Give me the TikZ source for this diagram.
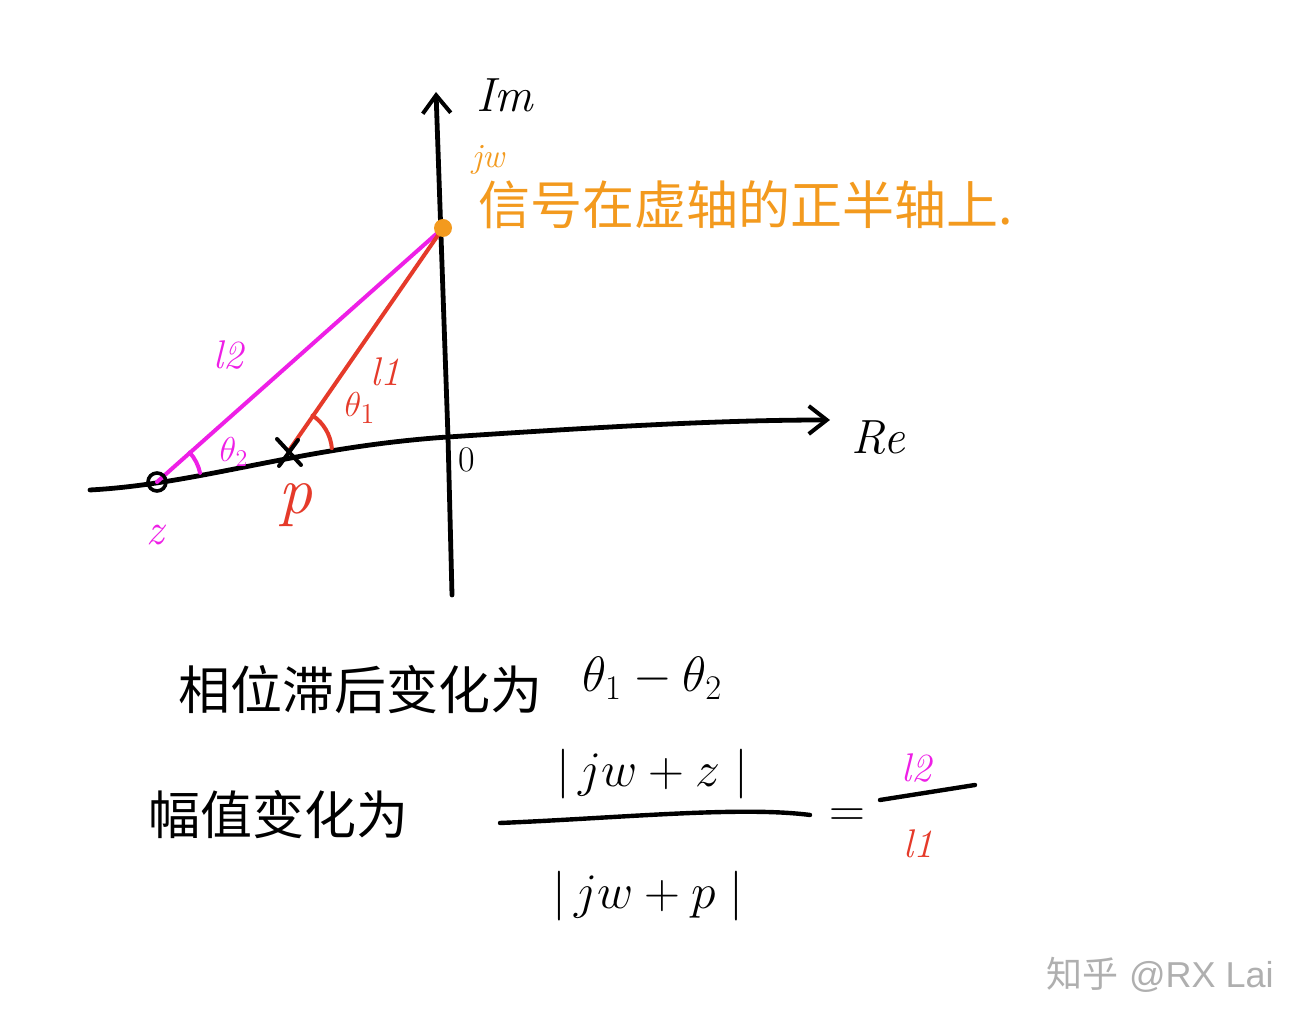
\documentclass[tikz,border=0pt]{standalone}
\usepackage{fontspec}
\newfontfamily\cjk{Noto Sans CJK SC}
\usetikzlibrary{arrows.meta,calc}
\definecolor{orng}{HTML}{F39A1E}
\definecolor{mag}{HTML}{EE1FE6}
\definecolor{rd}{HTML}{E53A2A}
\definecolor{wm}{HTML}{AFAFAF}
\tikzset{
  axis/.style={line width=2.4pt, line cap=round, black},
  vec/.style={line width=2pt, line cap=round},
  lbl/.style={inner sep=0pt},
  bigtxt/.style={inner sep=0pt, font=\cjk\fontsize{26}{30}\selectfont},
}
\begin{document}
\begin{tikzpicture}[x=0.5pt,y=0.5pt]
\useasboundingbox[fill=white] (0,0) rectangle (1312,1032);
% key points
\coordinate (o) at (448,595);
\coordinate (imtop) at (436,940);
\coordinate (imbot) at (452,437);
\coordinate (reL) at (90,542);
\coordinate (reR) at (830,612);
\coordinate (jw) at (443,804);
\coordinate (z) at (157,550);
\coordinate (p) at (288,580);
% axes
\draw[axis,-{Straight Barb[length=9pt,width=14pt,line width=2pt]}] (imbot) -- (o) -- (imtop);
\draw[axis,-{Straight Barb[length=9pt,width=14pt,line width=2pt]}] (reL) .. controls (200,548) and (300,585) .. (o) .. controls (600,605) and (720,612) .. (reR);
% vectors
\draw[vec,mag] (z) -- (jw);
\draw[vec,rd] (p) -- (jw);
% zero and pole
\node[draw=black,line width=1.8pt,circle,minimum size=9pt,inner sep=0pt,fill=none] (zc) at (z) {};
\draw[axis,line width=2pt] ($(p)+(-11,13)$) -- ($(p)+(13,-13)$);
\draw[axis,line width=2pt] ($(p)+(-9,-14)$) -- ($(p)+(10,12)$);
% angle arcs
\draw[vec,rd] ($(p)+(5:22pt)$) arc[start angle=5,end angle=56,radius=22pt];
\draw[vec,mag] ($(z)+(12:22pt)$) arc[start angle=12,end angle=42,radius=22pt];
% jw dot
\node[circle,fill=orng,minimum size=9pt,inner sep=0pt] (jwd) at (jw) {};
% labels
\node[lbl,font=\fontsize{24}{24}\selectfont\itshape] (imlbl) at (505,937) {Im};
\node[lbl,font=\fontsize{24}{24}\selectfont\itshape] (relbl) at (878,594) {Re};
\node[lbl,font=\fontsize{18}{18}\selectfont] (zero) at (467,572) {0};
\node[lbl,text=orng,font=\fontsize{17}{17}\selectfont\itshape] (jwlbl) at (488,872) {jw};
\node[lbl,anchor=west,text=orng,font=\cjk\fontsize{26}{30}\selectfont] (note) at (478,827) {信号在虚轴的正半轴上.};
\node[lbl,text=mag,font=\fontsize{22}{22}\selectfont\itshape] (zl) at (155,497) {z};
\node[lbl,text=rd,font=\fontsize{34}{34}\selectfont\itshape] (pl) at (295,527) {p};
\node[lbl,text=mag,font=\fontsize{20}{20}\selectfont\itshape] (l2) at (228,677) {l2};
\node[lbl,text=rd,font=\fontsize{20}{20}\selectfont\itshape] (l1) at (385,660) {l1};
\node[lbl,text=mag,font=\fontsize{17}{17}\selectfont] (t2) at (234,580) {$\theta_2$};
\node[lbl,text=rd,font=\fontsize{19}{19}\selectfont] (t1) at (360,624) {$\theta_1$};
% bottom text
\node[bigtxt,anchor=west] (phase) at (178,342) {相位滞后变化为};
\node[lbl,anchor=west,font=\fontsize{27}{27}\selectfont] (phdiff) at (582,354) {$\theta_1-\theta_2$};
\node[bigtxt,anchor=west] (mag) at (148,217) {幅值变化为};
\node[lbl,font=\fontsize{32}{32}\selectfont] (num) at (652,258) {$|\,jw+z\;|$};
\node[lbl,font=\fontsize{32}{32}\selectfont] (den) at (648,136) {$|\,jw+p\;|$};
\coordinate (barL) at (500,209);
\coordinate (barR) at (810,217);
\draw[vec,line width=2.2pt] (barL) .. controls (620,214) and (740,226) .. (barR);
\node[lbl,font=\fontsize{30}{30}\selectfont] (eq) at (847,214) {$=$};
\node[lbl,text=mag,font=\fontsize{20}{20}\selectfont\itshape] (rl2) at (916,264) {l2};
\node[lbl,text=rd,font=\fontsize{20}{20}\selectfont\itshape] (rl1) at (918,188) {l1};
\coordinate (sbL) at (880,232);
\coordinate (sbR) at (975,247);
\draw[vec,line width=2.2pt] (sbL) -- (sbR);
% watermark
\node[lbl,text=wm,font=\fontsize{18}{18}\selectfont] (wmk) at (1160,57) {{\cjk 知乎} \fontspec{Liberation Sans}@RX Lai};
\end{tikzpicture}
\end{document}
